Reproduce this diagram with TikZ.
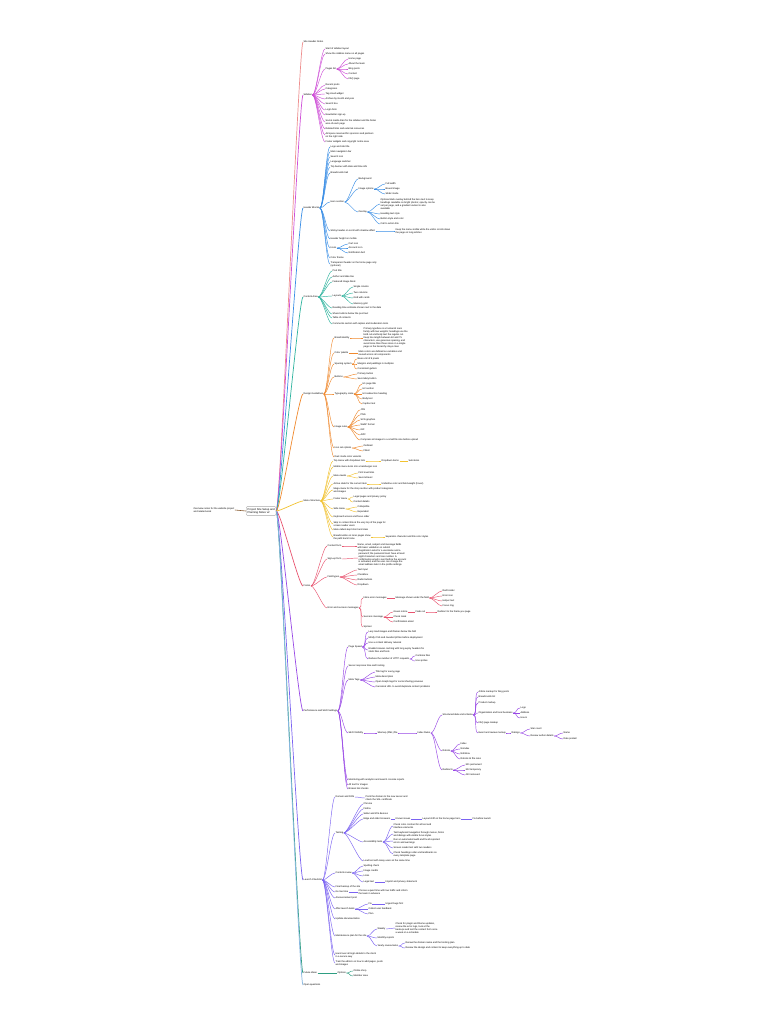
\documentclass[tikz,border=0pt]{standalone}
\usepackage{fontspec}
\setmainfont{Liberation Sans}

\definecolor{brsalmon}{HTML}{EE8E8E}
\definecolor{brmagenta}{HTML}{CF4FD8}
\definecolor{brblue}{HTML}{3A8EE6}
\definecolor{brteal}{HTML}{2DB39E}
\definecolor{brorange}{HTML}{F0892E}
\definecolor{brgold}{HTML}{F2C230}
\definecolor{brred}{HTML}{E9536F}
\definecolor{brpurple}{HTML}{9847E6}
\definecolor{brviolet}{HTML}{7B63F2}
\definecolor{brgreen}{HTML}{2E9E82}
\definecolor{brsky}{HTML}{86B6E0}
\colorlet{br}{gray}

\tikzset{
  leaf/.style={anchor=west, inner sep=0.4pt, align=left,
    font=\fontsize{2.4}{2.9}\selectfont},
  hub/.style={draw=gray!70, rounded corners=1pt, inner sep=1.5pt, anchor=west,
    align=left, font=\fontsize{2.7}{3.2}\selectfont},
  edge/.style={draw=br, line width=0.45pt},
  trunk/.style={draw=br, line width=0.7pt}
}

% child node plus its link to the parent
\newcommand{\kid}[6][edge]{%
  \node[leaf] (#3) at (#4,#5) {#6};
  \draw[#1] (#2.east) .. controls +(4,0) and +(-4,0) .. (#3.west);}

\begin{document}
\begin{tikzpicture}[x=1pt, y=-1pt]
  \useasboundingbox[fill=white] (0,0) rectangle (768,1024);

  % root and hub
  \node[leaf] (root) at (193,510) {Overview notes for the website project\\ and related work};
  \node[hub] (hub) at (246,511) {Project Site Setup and\\ Planning Notes v2};
  \draw[draw=brown!70!black, line width=0.6pt] (root.east) -- (hub.west);

  % header notes
  \colorlet{br}{brsalmon}
  \kid[trunk]{hub}{hdr}{303}{42}{Site Header Notes}

  % sidebar
  \colorlet{br}{brmagenta}
  \kid[trunk]{hub}{side}{303}{95}{Sidebar}
  \kid{side}{sa}{325}{49}{Start of sidebar layout}
  \kid{side}{sb}{325}{54}{Show the sidebar menu on all pages}
  \kid{side}{sc}{325}{69}{Pages list}
  \kid{sc}{sc1}{348}{59}{Home page}
  \kid{sc}{sc2}{348}{64}{About the team}
  \kid{sc}{sc3}{348}{69}{Blog posts}
  \kid{sc}{sc4}{348}{74}{Contact}
  \kid{sc}{sc5}{348}{79}{FAQ page}
  \kid{side}{sd}{325}{85}{Recent posts}
  \kid{side}{se}{325}{89}{Categories}
  \kid{side}{sf}{325}{94}{Tag cloud widget}
  \kid{side}{sg}{325}{99}{Archive by month and year}
  \kid{side}{sh}{325}{104}{Search box}
  \kid{side}{si}{325}{110}{Login form}
  \kid{side}{sj}{325}{115}{Newsletter sign-up}
  \kid{side}{sk}{325}{122}{Social media links for the sidebar and the footer\\ area of each page}
  \kid{side}{sl}{325}{129}{Related links and external resources}
  \kid{side}{sm}{325}{135}{Ad space reserved for sponsors and partners\\ on the right side}
  \kid{side}{sn}{325}{142}{Footer widgets and copyright notice area}

  % header blocks
  \colorlet{br}{brblue}
  \kid[trunk]{hub}{head}{303}{208}{Header Blocks}
  \kid{head}{ha}{330}{147}{Logo and site title}
  \kid{head}{hb}{330}{152}{Main navigation bar}
  \kid{head}{hc}{330}{157}{Search icon}
  \kid{head}{hd}{330}{162}{Language switcher}
  \kid{head}{he}{330}{167}{Top banner with date and time info}
  \kid{head}{hf}{330}{173}{Breadcrumb trail}
  \kid{head}{hg}{330}{202}{Hero section}
  \kid{hg}{hg1}{358}{179}{Background}
  \kid{hg}{hg2}{358}{189}{Image options}
  \kid{hg2}{hg21}{385}{184}{Full width}
  \kid{hg2}{hg22}{385}{189}{Boxed image}
  \kid{hg2}{hg23}{385}{194}{Slider mode}
  \kid{hg}{hg3}{358}{212}{Overlay}
  \kid{hg3}{hg31}{380}{204}{Optional dark overlay behind the hero text to keep\\ headings readable on bright photos; opacity can be\\ set per page, and a gradient variant is also\\ available}
  \kid{hg3}{hg32}{380}{214}{Heading text style}
  \kid{hg3}{hg33}{380}{219}{Button style and color}
  \kid{hg3}{hg34}{380}{224}{Call to action link}
  \kid{head}{hh}{330}{231}{Sticky header on scroll with shadow effect}
  \kid{hh}{hh1}{395}{231}{Keep the menu visible while the visitor scrolls down\\ the page on long articles}
  \kid{head}{hi}{330}{239}{Header height on mobile}
  \kid{head}{hj}{330}{248}{Icons}
  \kid{hj}{hj1}{348}{244}{Cart icon}
  \kid{hj}{hj2}{348}{248}{Account icon}
  \kid{hj}{hj3}{348}{253}{Notification bell}
  \kid{head}{hk}{330}{258}{Color theme}
  \kid{head}{hl}{330}{264}{Transparent header on the home page only\\ (optional)}

  % content area
  \colorlet{br}{brteal}
  \kid[trunk]{hub}{cont}{303}{297}{Content Area}
  \kid{cont}{ca}{332}{271}{Post title}
  \kid{cont}{cb}{332}{277}{Author and date line}
  \kid{cont}{cc}{332}{282}{Featured image block}
  \kid{cont}{cd}{332}{296}{Layouts}
  \kid{cd}{cd1}{353}{287}{Single column}
  \kid{cd}{cd2}{353}{293}{Two columns}
  \kid{cd}{cd3}{353}{298}{Grid with cards}
  \kid{cd}{cd4}{353}{304}{Masonry grid}
  \kid{cont}{ce}{332}{308}{Reading time estimate shown next to the date}
  \kid{cont}{cf}{332}{314}{Share buttons below the post text}
  \kid{cont}{cg}{332}{318}{Table of contents}
  \kid{cont}{ch}{332}{324}{Comments section with replies and moderation tools}

  % design guidelines
  \colorlet{br}{brorange}
  \kid[trunk]{hub}{des}{303}{394}{Design Guidelines}
  \kid{des}{da}{334}{338}{Brand identity}
  \kid{da}{da1}{363}{338}{Primary typeface is a humanist sans\\ family with two weights; headings use the\\ bold cut and body text the regular cut.\\ Keep line length between 60 and 75\\ characters, use generous spacing, and\\ avoid more than three sizes on a single\\ page so the hierarchy stays clear.}
  \kid{des}{db}{334}{353}{Color palette}
  \kid{db}{db1}{358}{353}{Main colors are defined as variables and\\ reused across all components}
  \kid{des}{dc}{334}{364}{Spacing system}
  \kid{dc}{dc1}{357}{359}{Base unit of 8 pixels}
  \kid{dc}{dc2}{357}{364}{Margins and paddings in multiples}
  \kid{dc}{dc3}{357}{369}{Consistent gutters}
  \kid{des}{dd}{334}{377}{Buttons}
  \kid{dd}{dd1}{357}{374}{Primary button}
  \kid{dd}{dd2}{357}{379}{Secondary button}
  \kid{des}{de}{334}{394}{Typography scale}
  \kid{de}{de1}{362}{384}{H1 page title}
  \kid{de}{de2}{362}{389}{H2 section}
  \kid{de}{de3}{362}{394}{H3 subsection heading}
  \kid{de}{de4}{362}{399}{Body text}
  \kid{de}{de5}{362}{404}{Caption text}
  \kid{des}{df}{334}{427}{Image rules}
  \kid{df}{df1}{360}{410}{JPG}
  \kid{df}{df2}{360}{415}{PNG}
  \kid{df}{df3}{360}{420}{SVG graphics}
  \kid{df}{df4}{360}{425}{WebP format}
  \kid{df}{df5}{360}{430}{GIF}
  \kid{df}{df6}{360}{435}{AVIF}
  \kid{df}{df7}{360}{440}{Compress all images to a small file size before upload}
  \kid{des}{dg}{334}{448}{Icon set options}
  \kid{dg}{dg1}{363}{446}{Outlined}
  \kid{dg}{dg2}{363}{451}{Filled}
  \kid{des}{dh}{334}{457}{Dark mode color variants}

  % menu structure
  \colorlet{br}{brgold}
  \kid[trunk]{hub}{menu}{303}{501}{Menu Structure}
  \kid{menu}{ma}{333}{461}{Top menu with dropdown lists}
  \kid{ma}{ma1}{381}{461}{Dropdown items}
  \kid{ma1}{ma2}{408}{461}{Sub items}
  \kid{menu}{mb}{333}{467}{Mobile menu turns into a hamburger icon}
  \kid{menu}{mc}{333}{476}{Menu levels}
  \kid{mc}{mc1}{358}{473}{First level links}
  \kid{mc}{mc2}{358}{478}{Second level}
  \kid{menu}{md}{333}{484}{Active state for the current item}
  \kid{md}{md1}{381}{484}{Underline color and bold weight (hover)}
  \kid{menu}{me}{333}{490}{Mega menu for the shop section with product categories\\ and images}
  \kid{menu}{mf}{333}{499}{Footer menu}
  \kid{mf}{mf1}{353}{497}{Legal pages and privacy policy}
  \kid{mf}{mf2}{353}{502}{Contact details}
  \kid{menu}{mg}{333}{509}{Side menu}
  \kid{mg}{mg1}{357}{507}{Collapsible}
  \kid{mg}{mg2}{357}{512}{Expanded}
  \kid{menu}{mh}{333}{517}{Keyboard access and focus order}
  \kid{menu}{mi}{333}{524}{Skip to content link at the very top of the page for\\ screen reader users}
  \kid{menu}{mj}{333}{530}{Menu labels kept short and clear}
  \kid{menu}{mk}{333}{537}{Breadcrumbs on inner pages show\\ the path back home}
  \kid{mk}{mk1}{385}{537}{Separator character and link color styles}

  % forms
  \colorlet{br}{brred}
  \kid[trunk]{hub}{form}{303}{586}{Forms}
  \kid{form}{fa}{327}{546}{Contact form}
  \kid{fa}{fa1}{357}{546}{Name, email, subject and message fields\\ with basic validation on submit}
  \kid{form}{fb}{327}{559}{Sign-up form}
  \kid{fb}{fb1}{358}{558}{Registration asks for a username and a\\ password; the password must have at least\\ eight characters and one number. A\\ confirmation email is sent before the account\\ is activated, and the user can change the\\ email address later in the profile settings.}
  \kid{form}{fc}{327}{577}{Field types}
  \kid{fc}{fc1}{357}{570}{Text input}
  \kid{fc}{fc2}{357}{575}{Checkbox}
  \kid{fc}{fc3}{357}{580}{Radio buttons}
  \kid{fc}{fc4}{357}{585}{Dropdown}
  \kid{form}{fd}{327}{608}{Error and success messages}
  \kid{fd}{fd1}{363}{598}{Inline error messages}
  \kid{fd1}{fd11}{395}{598}{Message shown under the field}
  \kid{fd11}{fd111}{442}{591}{Red border}
  \kid{fd11}{fd112}{442}{596}{Error icon}
  \kid{fd11}{fd113}{442}{601}{Helper text}
  \kid{fd11}{fd114}{442}{606}{Focus ring}
  \kid{fd}{fd2}{363}{617}{Success message}
  \kid{fd2}{fd21}{393}{612}{Green notice}
  \kid{fd21}{fd211}{415}{612}{Fade out}
  \kid{fd211}{fd212}{437}{612}{Redirect to the thank-you page}
  \kid{fd2}{fd22}{393}{617}{Check mark}
  \kid{fd2}{fd23}{393}{622}{Confirmation email}
  \kid{fd}{fd3}{363}{627}{Spinner}

  % performance and seo
  \colorlet{br}{brpurple}
  \kid[trunk]{hub}{perf}{303}{711}{Performance and SEO Settings}
  \kid{perf}{pa}{348}{647}{Page Speed}
  \kid{pa}{pa1}{368}{632}{Lazy load images and iframes below the fold}
  \kid{pa}{pa2}{368}{638}{Minify CSS and JavaScript files before deployment}
  \kid{pa}{pa3}{368}{643}{Use a content delivery network}
  \kid{pa}{pa4}{368}{650}{Enable browser caching with long expiry headers for\\ static files and fonts}
  \kid{pa}{pa5}{368}{659}{Reduce the number of HTTP requests}
  \kid{pa5}{pa51}{415}{656}{Combine files}
  \kid{pa5}{pa52}{415}{661}{Use sprites}
  \kid{perf}{pb}{348}{666}{Server response time and hosting}
  \kid{perf}{pc}{348}{680}{Meta Tags}
  \kid{pc}{pc1}{375}{672}{Title tag for every page}
  \kid{pc}{pc2}{375}{677}{Meta description}
  \kid{pc}{pc3}{375}{682}{Open Graph tags for social sharing previews}
  \kid{pc}{pc4}{375}{687}{Canonical URL to avoid duplicate content problems}
  \kid{perf}{pd}{348}{733}{SEO Visibility}
  \kid{pd}{pd1}{377}{733}{Sitemap (XML) file}
  \kid{pd1}{pd2}{417}{733}{Index Rules}
  \kid{pd2}{ps}{442}{715}{Structured data and schema}
  \kid{ps}{ps1}{478}{692}{Article markup for blog posts}
  \kid{ps}{ps2}{478}{697}{Breadcrumb list}
  \kid{ps}{ps3}{478}{703}{Product markup}
  \kid{ps}{ps4}{478}{713}{Organization and local business}
  \kid{ps4}{ps41}{520}{708}{Logo}
  \kid{ps4}{ps42}{520}{713}{Address}
  \kid{ps4}{ps43}{520}{718}{Hours}
  \kid{ps}{ps5}{478}{723}{FAQ page markup}
  \kid{ps}{ps6}{478}{733}{Event and review markup}
  \kid{ps6}{ps61}{511}{733}{Ratings}
  \kid{ps61}{ps62}{530}{729}{Star count}
  \kid{ps61}{ps63}{530}{736}{Review author details}
  \kid{ps63}{ps64}{563}{733}{Name}
  \kid{ps63}{ps65}{563}{739}{Date posted}
  \kid{pd2}{pr}{442}{751}{Robots}
  \kid{pr}{pr1}{460}{744}{Index}
  \kid{pr}{pr2}{460}{749}{Noindex}
  \kid{pr}{pr3}{460}{754}{Nofollow}
  \kid{pr}{pr4}{460}{759}{Robots.txt file rules}
  \kid{pd2}{pt}{442}{770}{Redirects}
  \kid{pt}{pt1}{465}{765}{301 permanent}
  \kid{pt}{pt2}{465}{770}{302 temporary}
  \kid{pt}{pt3}{465}{775}{410 removed}
  \kid{perf}{pe}{348}{780}{Monitoring with analytics and search console reports}
  \kid{perf}{pf}{348}{785}{Alt text for images}
  \kid{perf}{pg}{348}{789}{Broken link checks}

  % launch checklist
  \colorlet{br}{brviolet}
  \kid[trunk]{hub}{laun}{303}{880}{Launch Checklist}
  \kid{laun}{la}{335}{797}{Domain and DNS}
  \kid{la}{la1}{365}{798}{Point the domain to the new server and\\ check the SSL certificate}
  \kid{laun}{lb}{335}{833}{Testing}
  \kid{lb}{lb1}{363}{804}{Chrome}
  \kid{lb}{lb2}{363}{809}{Firefox}
  \kid{lb}{lb3}{363}{814}{Safari and iOS devices}
  \kid{lb}{lb4}{363}{819}{Edge and older browsers}
  \kid{lb4}{lb41}{395}{819}{Known issues}
  \kid{lb41}{lb42}{422}{819}{Layout shift on the home page hero}
  \kid{lb42}{lb43}{472}{819}{Fix before launch}
  \kid{lb}{lb5}{363}{842}{Accessibility tests}
  \kid{lb5}{lb51}{393}{826}{Check color contrast for all text and\\ interface elements}
  \kid{lb5}{lb52}{393}{834}{Test keyboard navigation through menus, forms\\ and dialogs with visible focus styles}
  \kid{lb5}{lb53}{393}{841}{Run an automated audit and fix all reported\\ errors and warnings}
  \kid{lb5}{lb54}{393}{848}{Screen reader test with two readers}
  \kid{lb5}{lb55}{393}{854}{Check headings order and landmarks on\\ every template page}
  \kid{lb}{lb6}{363}{861}{Load test with many users at the same time}
  \kid{laun}{lc}{335}{873}{Content review}
  \kid{lc}{lc1}{363}{866}{Spelling check}
  \kid{lc}{lc2}{363}{871}{Image credits}
  \kid{lc}{lc3}{363}{876}{Links}
  \kid{lc}{lc4}{363}{882}{Legal text}
  \kid{lc4}{lc41}{385}{882}{Imprint and privacy statement}
  \kid{laun}{ld}{335}{887}{Final backup of the site}
  \kid{laun}{le}{335}{892}{Go live time}
  \kid{le}{le1}{358}{892}{Choose a quiet time with low traffic and inform\\ the team in advance}
  \kid{laun}{lf}{335}{898}{Announcement post}
  \kid{laun}{lg}{335}{909}{After launch tasks}
  \kid{lg}{lg1}{368}{904}{Fix}
  \kid{lg1}{lg11}{385}{904}{Urgent bugs first}
  \kid{lg}{lg2}{368}{909}{Collect user feedback}
  \kid{lg}{lg3}{368}{914}{Plan}
  \kid{laun}{lh}{335}{919}{Update documentation}
  \kid{laun}{li}{335}{936}{Maintenance plan for the site}
  \kid{li}{li1}{377}{929}{Weekly}
  \kid{li1}{li11}{395}{928}{Check for plugin and theme updates,\\ review the error logs, look at the\\ backups and test the contact form once\\ a week on a schedule}
  \kid{li}{li2}{377}{938}{Monthly reports}
  \kid{li}{li3}{377}{946}{Yearly review tasks}
  \kid{li3}{li31}{405}{943}{Renew the domain name and the hosting plan}
  \kid{li3}{li32}{405}{948}{Review the design and content to keep everything up to date}
  \kid{laun}{lj}{335}{955}{Hand over all login details to the client\\ in a secure way}
  \kid{laun}{lk}{335}{963}{Train the editors on how to add pages, posts\\ and images}

  % future ideas
  \colorlet{br}{brgreen}
  \kid[trunk]{hub}{fut}{303}{973}{Future ideas}
  \kid{fut}{fu}{337}{973}{Options}
  \kid{fu}{fu1}{353}{971}{Online shop}
  \kid{fu}{fu2}{353}{976}{Member area}

  % open questions
  \colorlet{br}{brsky}
  \kid[trunk]{hub}{open}{303}{985}{Open questions}
\end{tikzpicture}
\end{document}
